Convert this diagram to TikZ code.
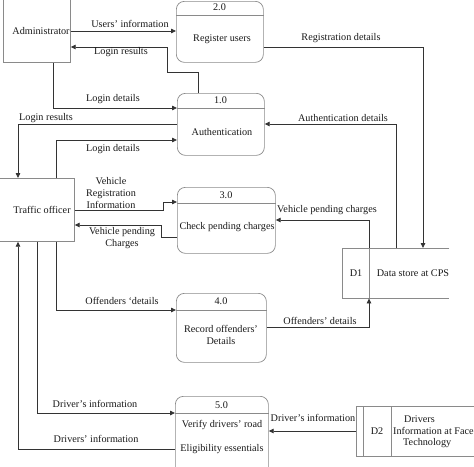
\documentclass[tikz,border=0pt]{standalone}
\usepackage{fontspec}
\setmainfont{Liberation Serif}
\usetikzlibrary{arrows.meta}
\definecolor{linecol}{HTML}{333333}
\definecolor{boxcol}{HTML}{8A8A8A}
\begin{document}
\begin{tikzpicture}[x=1pt,y=-1pt,
  every node/.style={font=\fontsize{10.2}{12}\selectfont, text=black!90},
  proc/.style={draw=boxcol, line width=0.7pt, rounded corners=8pt, anchor=north west, inner sep=0pt},
  ent/.style={draw=boxcol, line width=0.7pt, anchor=north west, inner sep=0pt},
  store/.style={anchor=north west, inner sep=0pt},
  lbl/.style={inner sep=0pt, align=center},
  flow/.style={draw=linecol, line width=0.8pt, -{Triangle[length=5pt,width=4.5pt]}},
  divider/.style={draw=boxcol, line width=0.7pt}
]
\useasboundingbox (0,0) rectangle (474,466);
\clip (0,0) rectangle (474,466);

% entities
\node[ent, minimum width=67pt, minimum height=67pt] (admin) at (3,-5) {};
\node[lbl] (admintxt) at (41,31) {Administrator};
\node[ent, minimum width=75pt, minimum height=63pt] (traffic) at (-1,178) {};
\node[lbl] (traffictxt) at (42,210) {Traffic officer};

% processes
\node[proc, minimum width=87pt, minimum height=61pt] (p2) at (176,1) {};
\draw[divider] (p2.west |- 0,15) -- (p2.east |- 0,15);
\node[lbl] (n2) at (219.5,7) {2.0};
\node[lbl] (t2) at (222,39) {Register users};

\node[proc, minimum width=87pt, minimum height=62pt] (p1) at (177,93) {};
\draw[divider] (p1.west |- 0,108) -- (p1.east |- 0,108);
\node[lbl] (n1) at (220.5,100) {1.0};
\node[lbl] (t1) at (222,132) {Authentication};

\node[proc, minimum width=98pt, minimum height=66pt] (p3) at (177,187) {};
\draw[divider] (p3.west |- 0,203) -- (p3.east |- 0,203);
\node[lbl] (n3) at (226,195) {3.0};
\node[lbl] (t3) at (227,227) {Check pending charges};

\node[proc, minimum width=90pt, minimum height=69pt] (p4) at (176,293) {};
\draw[divider] (p4.west |- 0,310) -- (p4.east |- 0,310);
\node[lbl] (n4) at (221,301) {4.0};
\node[lbl] (t4) at (221,335) {Record offenders'\\Details};

\node[proc, minimum width=93pt, minimum height=82pt] (p5) at (175,396) {};
\draw[divider] (p5.west |- 0,413) -- (p5.east |- 0,413);
\node[lbl] (n5) at (221.5,405) {5.0};
\node[lbl] (t5a) at (222,425) {Verify drivers’ road};
\node[lbl] (t5b) at (222,449) {Eligibility essentials};

% data stores
\node[store, minimum width=107pt, minimum height=50pt] (d1) at (342,248) {};
\draw[divider] (d1.north east) -- (d1.north west) -- (d1.south west) -- (d1.south east);
\draw[divider] (369,0 |- d1.north) -- (369,0 |- d1.south);
\node[lbl] (d1id) at (356,273) {D1};
\node[lbl] (d1txt) at (413,273) {Data store at CPS};

\node[store, minimum width=130pt, minimum height=50pt] (d2) at (356,406) {};
\draw[divider] (d2.north east) -- (d2.north west) -- (d2.south west) -- (d2.south east);
\draw[divider] (363,0 |- d2.north) -- (363,0 |- d2.south);
\draw[divider] (391,0 |- d2.north) -- (391,0 |- d2.south);
\node[lbl] (d2id) at (377,431) {D2};
\node[lbl, anchor=west] (d2a) at (404,419) {Drivers};
\node[lbl, anchor=west] (d2b) at (393,431) {Information at Face};
\node[lbl, anchor=west] (d2c) at (403,443) {Technology};

% flows
\draw[flow] (admin.east |- 0,31) -- (p2.west |- 0,31);
\node[lbl] at (130,24) {Users' information};

\draw[flow] (198,0 |- p1.north) -- (198,72) -- (167,72) -- (167,47) -- (admin.east |- 0,47);
\node[lbl] at (121,52) {Login results};

\draw[flow] (53,0 |- admin.south) -- (53,108) -- (p1.west |- 0,108);
\node[lbl] at (113,99) {Login details};

\draw[flow] (p2.east |- 0,47) -- (423,47) -- (423,0 |- d1.north);
\node[lbl] at (341,38) {Registration details};

\draw[flow] (396,0 |- d1.north) -- (396,124) -- (p1.east |- 0,124);
\node[lbl] at (343,118) {Authentication details};

\draw[flow] (p1.west |- 0,124) -- (18,124) -- (18,0 |- traffic.north);
\node[lbl] at (46,118) {Login results};

\draw[flow] (56,0 |- traffic.north) -- (56,140) -- (p1.west |- 0,140);
\node[lbl] at (113,149) {Login details};

\draw[flow] (traffic.east |- 0,210) -- (163,210) -- (163,202) -- (p3.west |- 0,202);
\node[lbl] at (111,193) {Vehicle\\Registration\\Information};

\draw[flow] (p3.west |- 0,237) -- (161,237) -- (161,225) -- (traffic.east |- 0,225);
\node[lbl] at (122,238) {Vehicle pending\\Charges};

\draw[flow] (369,0 |- d1.north) -- (369,220) -- (p3.east |- 0,220);
\node[lbl] at (327,210) {Vehicle pending charges};

\draw[flow] (56,0 |- traffic.south) -- (56,310) -- (p4.west |- 0,310);
\node[lbl] at (122,301) {Offenders ‘details};

\draw[flow] (p4.east |- 0,327) -- (369,327) -- (369,0 |- d1.south);
\node[lbl] at (320,321) {Offenders' details};

\draw[flow] (37,0 |- traffic.south) -- (37,413) -- (p5.west |- 0,413);
\node[lbl] at (95,404) {Driver’s information};

\draw[flow] (p5.west |- 0,449) -- (18,449) -- (18,0 |- traffic.south);
\node[lbl] at (96,439) {Drivers’ information};

\draw[flow] (d2.west |- 0,431) -- (p5.east |- 0,431);
\node[lbl] at (313,418) {Driver’s information};
\end{tikzpicture}
\end{document}
